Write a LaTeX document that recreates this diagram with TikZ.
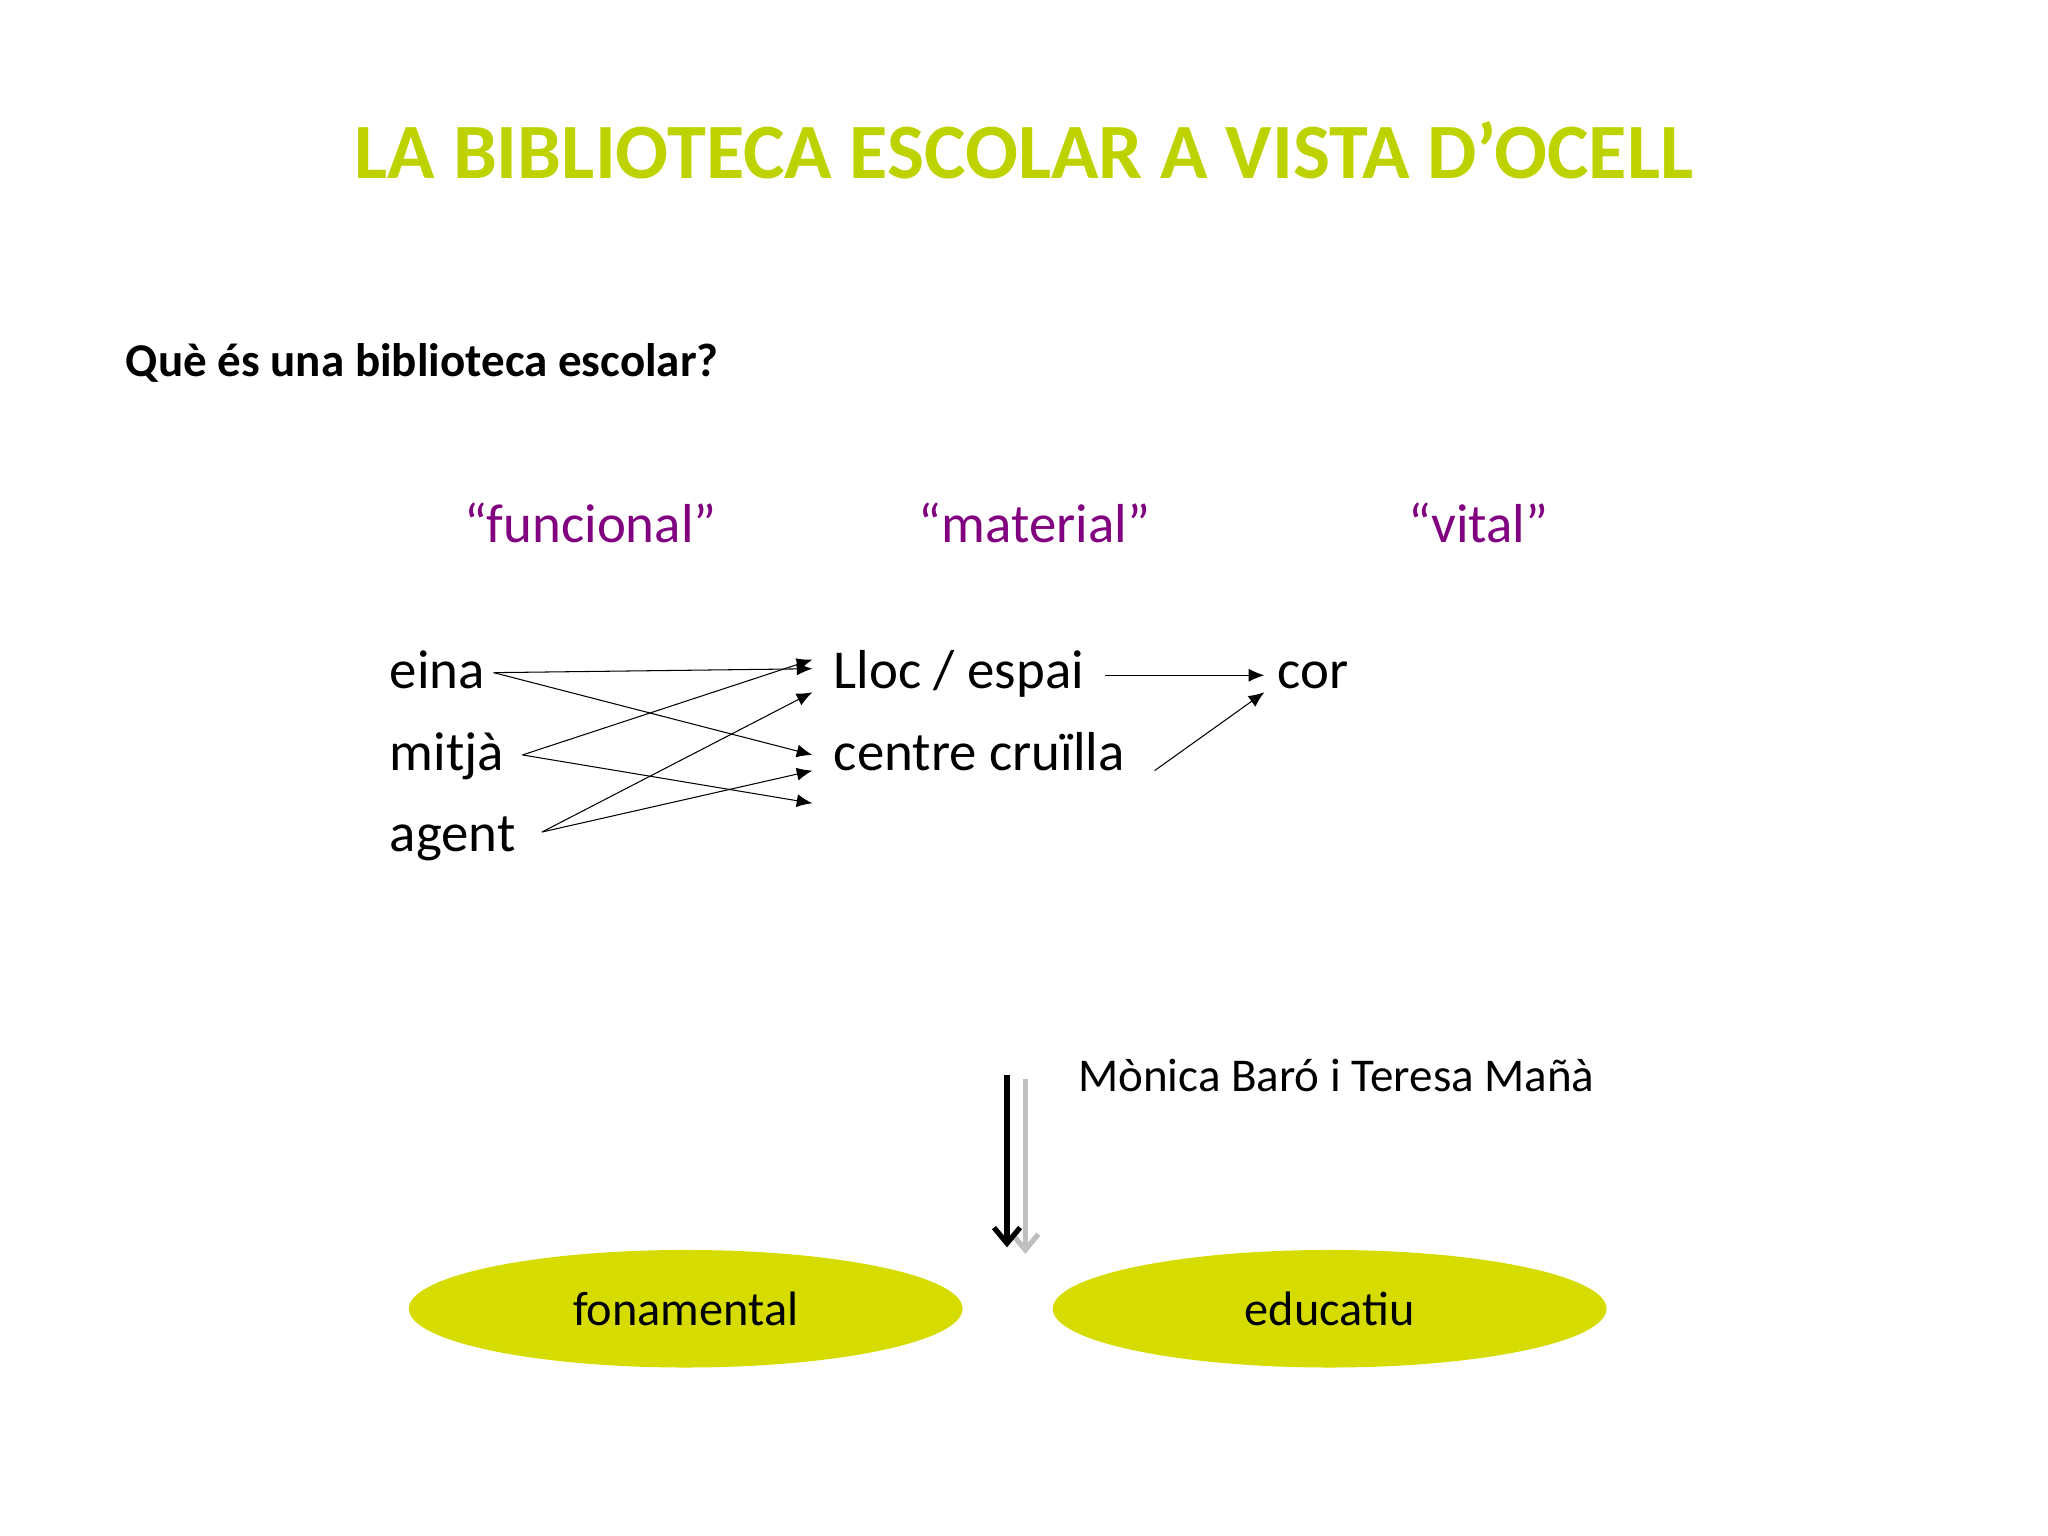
\documentclass[tikz,border=0pt]{standalone}
\usepackage{fontspec}
\setmainfont{Carlito}
\usetikzlibrary{arrows.meta,shapes.geometric}
\definecolor{titlegreen}{RGB}{190,210,0}
\definecolor{ellfill}{RGB}{215,220,0}
\definecolor{purp}{RGB}{128,0,128}
\begin{document}
\begin{tikzpicture}[x=0.5pt,y=-0.5pt,
  word/.style={anchor=base west,inner sep=0pt,font=\fontsize{21}{25}\selectfont},
  quote/.style={anchor=base,inner sep=0pt,text=purp,font=\fontsize{21}{25}\selectfont},
  arr/.style={-{Latex[length=6pt,width=5pt]},thin},
  ell/.style={ellipse,fill=ellfill,minimum width=212pt,minimum height=45pt,inner sep=0pt,font=\fontsize{18.5}{22}\selectfont}]
\useasboundingbox (0,0) rectangle (1568,1176);
\node[anchor=base,inner sep=0pt,text=titlegreen,font=\bfseries\fontsize{30}{36}\selectfont] (title) at (784,137) {LA BIBLIOTECA ESCOLAR A VISTA D’OCELL};
\node[anchor=base west,inner sep=0pt,font=\bfseries\fontsize{18}{22}\selectfont] (q) at (96,288) {Què és una biblioteca escolar?};
\node[quote] (f) at (452,415) {“funcional”};
\node[quote] (m) at (792,415) {“material”};
\node[quote] (v) at (1132,415) {“vital”};
\node[word] (eina) at (298,527) {eina};
\node[word] (mitja) at (298,590) {mitjà};
\node[word] (agent) at (298,652) {agent};
\node[word] (lloc) at (638,527) {Lloc / espai};
\node[word] (centre) at (638,590) {centre cruïlla};
\node[word] (cor) at (978,527) {cor};
\node[anchor=base west,inner sep=0pt,font=\fontsize{18}{22}\selectfont] (auth) at (825,836) {Mònica Baró i Teresa Mañà};
\coordinate (e1) at (378,515); \coordinate (m1) at (400,578); \coordinate (a1) at (415,637);
\coordinate (l1) at (622,512); \coordinate (l2) at (622,505); \coordinate (l3) at (622,530);
\coordinate (c1) at (622,578); \coordinate (c2) at (622,615); \coordinate (c3) at (622,590);
\coordinate (lo) at (846,517); \coordinate (ci) at (968,517);
\coordinate (co) at (884,590); \coordinate (ci2) at (968,530);
\draw[arr] (e1) -- (l1);
\draw[arr] (e1) -- (c1);
\draw[arr] (m1) -- (l2);
\draw[arr] (m1) -- (c2);
\draw[arr] (a1) -- (l3);
\draw[arr] (a1) -- (c3);
\draw[arr] (lo) -- (ci);
\draw[arr] (co) -- (ci2);
\coordinate (d1) at (771,823); \coordinate (d2) at (771,955);
\coordinate (g1) at (785,826); \coordinate (g2) at (785,960);
\draw[gray!50,line width=2pt,-{Straight Barb[length=6pt,width=10pt]}] (g1) -- (g2);
\draw[black,line width=2pt,-{Straight Barb[length=6pt,width=10pt]}] (d1) -- (d2);
\node[ell] (fon) at (525,1002) {fonamental};
\node[ell] (edu) at (1018,1002) {educatiu};
\end{tikzpicture}
\end{document}
